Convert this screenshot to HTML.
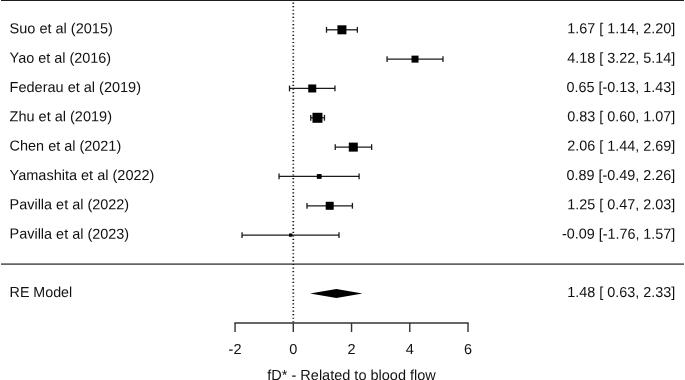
<!DOCTYPE html><html><head><meta charset="utf-8"><title>Forest plot</title>
<style>html,body{margin:0;padding:0;background:#fff;overflow:hidden}svg{display:block}text{font-family:"Liberation Sans",Arial,sans-serif;font-size:14.50px;fill:#111}</style></head><body>
<svg width="685" height="380" viewBox="0 0 685 380">
<rect width="685" height="380" fill="#fff"/>
<rect x="1" y="0" width="683" height="0.95" fill="#111"/>
<line x1="1" y1="264.08" x2="684" y2="264.08" stroke="#646464" stroke-width="1.85"/>
<line x1="293.30" y1="2.5" x2="293.30" y2="322.3" stroke="#111" stroke-width="1.7" stroke-dasharray="1.2 2.381"/>
<line x1="234.36" y1="322.95" x2="468.72" y2="322.95" stroke="#333" stroke-width="1.4"/>
<line x1="235.06" y1="322.95" x2="235.06" y2="332.05" stroke="#333" stroke-width="1.4"/>
<text x="235.06" y="354.00" transform="rotate(0.04 235.06 354.00)" text-anchor="middle" xml:space="preserve">-2</text>
<line x1="293.30" y1="322.95" x2="293.30" y2="332.05" stroke="#333" stroke-width="1.4"/>
<text x="293.30" y="354.00" transform="rotate(0.04 293.30 354.00)" text-anchor="middle" xml:space="preserve">0</text>
<line x1="351.54" y1="322.95" x2="351.54" y2="332.05" stroke="#333" stroke-width="1.4"/>
<text x="351.54" y="354.00" transform="rotate(0.04 351.54 354.00)" text-anchor="middle" xml:space="preserve">2</text>
<line x1="409.78" y1="322.95" x2="409.78" y2="332.05" stroke="#333" stroke-width="1.4"/>
<text x="409.78" y="354.00" transform="rotate(0.04 409.78 354.00)" text-anchor="middle" xml:space="preserve">4</text>
<line x1="468.02" y1="322.95" x2="468.02" y2="332.05" stroke="#333" stroke-width="1.4"/>
<text x="468.02" y="354.00" transform="rotate(0.04 468.02 354.00)" text-anchor="middle" xml:space="preserve">6</text>
<text x="351.54" y="380.00" transform="rotate(0.04 351.54 380.00)" text-anchor="middle" xml:space="preserve">fD* - Related to blood flow</text>
<text x="9.60" y="33.30" transform="rotate(0.04 9.60 33.30)" xml:space="preserve">Suo et al (2015)</text>
<text x="567.30" y="33.30" transform="rotate(0.04 567.30 33.30)" textLength="108.0" lengthAdjust="spacingAndGlyphs" xml:space="preserve">1.67 [ 1.14, 2.20]</text>
<line x1="326.50" y1="29.80" x2="357.36" y2="29.80" stroke="#1a1a1a" stroke-width="1.3"/>
<line x1="326.50" y1="26.90" x2="326.50" y2="32.70" stroke="#1a1a1a" stroke-width="1.3"/>
<line x1="357.36" y1="26.90" x2="357.36" y2="32.70" stroke="#1a1a1a" stroke-width="1.3"/>
<rect x="337.43" y="25.30" width="9.00" height="9.00" fill="#000"/>
<text x="9.60" y="62.63" transform="rotate(0.04 9.60 62.63)" textLength="101.5" lengthAdjust="spacingAndGlyphs" xml:space="preserve">Yao et al (2016)</text>
<text x="567.30" y="62.63" transform="rotate(0.04 567.30 62.63)" textLength="108.0" lengthAdjust="spacingAndGlyphs" xml:space="preserve">4.18 [ 3.22, 5.14]</text>
<line x1="387.07" y1="59.13" x2="442.98" y2="59.13" stroke="#1a1a1a" stroke-width="1.3"/>
<line x1="387.07" y1="56.23" x2="387.07" y2="62.03" stroke="#1a1a1a" stroke-width="1.3"/>
<line x1="442.98" y1="56.23" x2="442.98" y2="62.03" stroke="#1a1a1a" stroke-width="1.3"/>
<rect x="411.52" y="55.63" width="7.00" height="7.00" fill="#000"/>
<text x="9.60" y="91.96" transform="rotate(0.04 9.60 91.96)" xml:space="preserve">Federau et al (2019)</text>
<text x="566.60" y="91.96" transform="rotate(0.04 566.60 91.96)" textLength="108.7" lengthAdjust="spacingAndGlyphs" xml:space="preserve">0.65 [-0.13, 1.43]</text>
<line x1="289.51" y1="88.46" x2="334.94" y2="88.46" stroke="#1a1a1a" stroke-width="1.3"/>
<line x1="289.51" y1="85.56" x2="289.51" y2="91.36" stroke="#1a1a1a" stroke-width="1.3"/>
<line x1="334.94" y1="85.56" x2="334.94" y2="91.36" stroke="#1a1a1a" stroke-width="1.3"/>
<rect x="308.23" y="84.46" width="8.00" height="8.00" fill="#000"/>
<text x="9.60" y="121.29" transform="rotate(0.04 9.60 121.29)" xml:space="preserve">Zhu et al (2019)</text>
<text x="567.30" y="121.29" transform="rotate(0.04 567.30 121.29)" textLength="108.0" lengthAdjust="spacingAndGlyphs" xml:space="preserve">0.83 [ 0.60, 1.07]</text>
<line x1="310.77" y1="117.79" x2="324.46" y2="117.79" stroke="#1a1a1a" stroke-width="1.3"/>
<line x1="310.77" y1="114.89" x2="310.77" y2="120.69" stroke="#1a1a1a" stroke-width="1.3"/>
<line x1="324.46" y1="114.89" x2="324.46" y2="120.69" stroke="#1a1a1a" stroke-width="1.3"/>
<rect x="312.47" y="112.79" width="10.00" height="10.00" fill="#000"/>
<text x="9.60" y="150.62" transform="rotate(0.04 9.60 150.62)" textLength="111.6" lengthAdjust="spacingAndGlyphs" xml:space="preserve">Chen et al (2021)</text>
<text x="567.30" y="150.62" transform="rotate(0.04 567.30 150.62)" textLength="108.0" lengthAdjust="spacingAndGlyphs" xml:space="preserve">2.06 [ 1.44, 2.69]</text>
<line x1="335.23" y1="147.12" x2="371.63" y2="147.12" stroke="#1a1a1a" stroke-width="1.3"/>
<line x1="335.23" y1="144.22" x2="335.23" y2="150.02" stroke="#1a1a1a" stroke-width="1.3"/>
<line x1="371.63" y1="144.22" x2="371.63" y2="150.02" stroke="#1a1a1a" stroke-width="1.3"/>
<rect x="348.79" y="142.62" width="9.00" height="9.00" fill="#000"/>
<text x="9.60" y="179.95" transform="rotate(0.04 9.60 179.95)" xml:space="preserve">Yamashita et al (2022)</text>
<text x="566.60" y="179.95" transform="rotate(0.04 566.60 179.95)" textLength="108.7" lengthAdjust="spacingAndGlyphs" xml:space="preserve">0.89 [-0.49, 2.26]</text>
<line x1="279.03" y1="176.45" x2="359.11" y2="176.45" stroke="#1a1a1a" stroke-width="1.3"/>
<line x1="279.03" y1="173.55" x2="279.03" y2="179.35" stroke="#1a1a1a" stroke-width="1.3"/>
<line x1="359.11" y1="173.55" x2="359.11" y2="179.35" stroke="#1a1a1a" stroke-width="1.3"/>
<rect x="316.82" y="174.05" width="4.80" height="4.80" fill="#000"/>
<text x="9.60" y="209.28" transform="rotate(0.04 9.60 209.28)" textLength="119.5" lengthAdjust="spacingAndGlyphs" xml:space="preserve">Pavilla et al (2022)</text>
<text x="567.30" y="209.28" transform="rotate(0.04 567.30 209.28)" textLength="108.0" lengthAdjust="spacingAndGlyphs" xml:space="preserve">1.25 [ 0.47, 2.03]</text>
<line x1="306.99" y1="205.78" x2="352.41" y2="205.78" stroke="#1a1a1a" stroke-width="1.3"/>
<line x1="306.99" y1="202.88" x2="306.99" y2="208.68" stroke="#1a1a1a" stroke-width="1.3"/>
<line x1="352.41" y1="202.88" x2="352.41" y2="208.68" stroke="#1a1a1a" stroke-width="1.3"/>
<rect x="325.70" y="201.78" width="8.00" height="8.00" fill="#000"/>
<text x="9.60" y="238.61" transform="rotate(0.04 9.60 238.61)" textLength="119.5" lengthAdjust="spacingAndGlyphs" xml:space="preserve">Pavilla et al (2023)</text>
<text x="562.00" y="238.61" transform="rotate(0.04 562.00 238.61)" textLength="113.3" lengthAdjust="spacingAndGlyphs" xml:space="preserve">-0.09 [-1.76, 1.57]</text>
<line x1="242.05" y1="235.11" x2="339.02" y2="235.11" stroke="#1a1a1a" stroke-width="1.3"/>
<line x1="242.05" y1="232.21" x2="242.05" y2="238.01" stroke="#1a1a1a" stroke-width="1.3"/>
<line x1="339.02" y1="232.21" x2="339.02" y2="238.01" stroke="#1a1a1a" stroke-width="1.3"/>
<rect x="289.03" y="233.46" width="3.30" height="3.30" fill="#000"/>
<text x="9.60" y="296.90" transform="rotate(0.04 9.60 296.90)" textLength="62.6" lengthAdjust="spacingAndGlyphs" xml:space="preserve">RE Model</text>
<text x="567.30" y="296.90" transform="rotate(0.04 567.30 296.90)" textLength="108.0" lengthAdjust="spacingAndGlyphs" xml:space="preserve">1.48 [ 0.63, 2.33]</text>
<polygon points="310.05,293.40 336.40,288.90 362.55,293.40 336.40,297.90" fill="#000"/>
</svg></body></html>
